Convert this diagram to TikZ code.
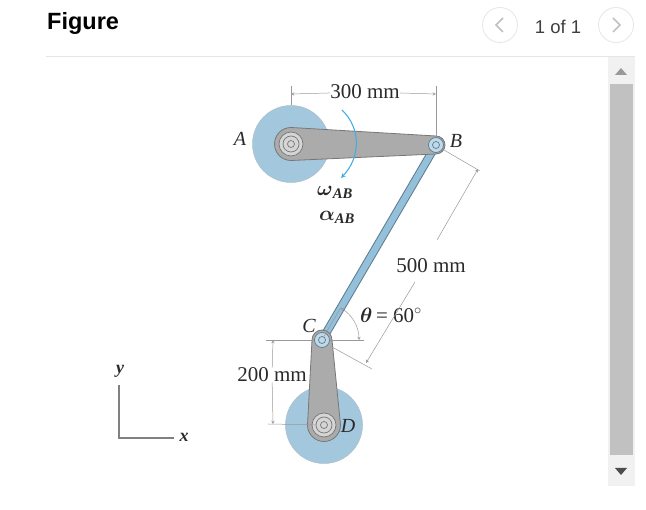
\documentclass[tikz,border=0pt]{standalone}
\usepackage{amsmath,amssymb}
\usepackage{fontspec}
\setmainfont{Liberation Serif}
\newfontfamily\uifont{Liberation Sans}
\usepackage{tikz}
\definecolor{diskblue}{HTML}{A3C8DD}
\definecolor{linkblue}{HTML}{94C0DA}
\definecolor{edgeblue}{HTML}{5A7D91}
\definecolor{armgray}{HTML}{ABABAB}
\definecolor{armedge}{HTML}{777777}
\definecolor{dimgray}{HTML}{999999}
\definecolor{rulegray}{HTML}{E6E6E6}
\definecolor{trackgray}{HTML}{F1F1F1}
\definecolor{thumbgray}{HTML}{C1C1C1}
\definecolor{spinblue}{HTML}{45AEE0}
\definecolor{inkgray}{HTML}{2A2A2A}

\begin{document}
\begin{tikzpicture}
		[
			x=1pt, y=1pt,
			>=stealth,
			disk/.style = {circle, minimum size=77pt, inner sep=0pt, draw=edgeblue!50, fill=diskblue, line width=0.5pt},
			ring/.style = {circle, inner sep=0pt, draw=armedge, fill=armgray!50, line width=0.7pt},
			arm/.style = {draw=armedge, fill=armgray, line width=0.8pt},
			dim/.style = {draw=dimgray, line width=0.5pt},
			lbl/.style = {inner sep=0pt, text=inkgray, font=\fontsize{21}{21}\selectfont},
			plbl/.style = {inner sep=0pt, text=inkgray, font=\fontsize{20}{20}\selectfont\itshape},
			axlbl/.style = {inner sep=0pt, text=inkgray, font=\fontsize{18}{18}\selectfont\itshape\bfseries},
			pagebtn/.style = {circle, minimum size=35pt, inner sep=0pt, draw=rulegray, fill=white, line width=0.8pt},
		]
		\useasboundingbox (0,0) rectangle (646,-510);

		% page header
		\node[anchor=west, inner sep=0pt, font=\uifont\bfseries\fontsize{23.5}{23.5}\selectfont] (title) at (47,-23.5) {Figure};
		\node[pagebtn] (prev) at (500,-25) {};
		\node[pagebtn] (next) at (616,-25) {};
		\node[inner sep=0pt, text=inkgray!90, font=\uifont\fontsize{18.5}{18.5}\selectfont] (pageno) at (558,-27) {1 of 1};
		\draw[line width=1.5pt, draw=thumbgray] (503,-18) -- (496,-25) -- (503,-32);
		\draw[line width=1.5pt, draw=thumbgray] (613,-18) -- (620,-25) -- (613,-32);
		\coordinate (ruleL) at (46,-56.5);
		\coordinate (ruleR) at (635,-56.5);
		\draw[rulegray, line width=1pt] (ruleL) -- (ruleR);

		% scroll bar
		\fill[trackgray] (608,-57) rectangle (635,-486);
		\fill[thumbgray] (610,-84) rectangle (633,-455);
		\fill[gray!80] (615,-75) -- (627,-75) -- (621,-68) -- cycle;
		\fill[black!70] (615,-468) -- (627,-468) -- (621,-475) -- cycle;

		% disks and pins
		\node[disk] (A) at (291,-144) {};
		\node[disk] (D) at (324,-425) {};
		\coordinate (B) at (436,-145);
		\coordinate (C) at (322,-340);

		% link BC
		\draw[edgeblue, line width=8.5pt] (B) -- (C);
		\draw[linkblue, line width=6.5pt] (B) -- (C);

		% arms
		\path[arm] (291,-127.5) -- (436,-136) arc[start angle=90, end angle=-90, radius=9]
			-- (291,-160.5) arc[start angle=270, end angle=90, radius=16.5] -- cycle;
		\path[arm] (312,-340) arc[start angle=180, end angle=0, radius=10]
			-- (340.5,-425) arc[start angle=0, end angle=-180, radius=16.5] -- cycle;

		% pins
		\foreach \pin/\rad in {A/24,A/16,A/7,D/24,D/16,D/7}
		\node[ring, minimum size=\rad pt] (p\pin\rad) at (\pin) {};
		\foreach \pin/\rad in {B/15,B/7,C/15,C/7}
		\node[ring, minimum size=\rad pt, draw=edgeblue, fill=linkblue!60] (p\pin\rad) at (\pin) {};

		% labels
		\node[plbl] (la) at (240,-139) {A};
		\node[plbl] (lb) at (456,-141) {B};
		\node[plbl] (lc) at (309,-326) {C};
		\node[plbl] (ld) at (348,-426) {D};
		\node[lbl] (t300) at (365,-92) {300 mm};
		\node[lbl] (t500) at (431,-266) {500 mm};
		\node[lbl] (t200) at (272,-375) {200 mm};
		\node[lbl] (ttheta) at (391,-315) {$\boldsymbol{\theta}$\,= 60$^{\circ}$};
		\node[lbl] (tomega) at (335,-192) {$\boldsymbol{\omega}_{\text{\itshape\bfseries AB}}$};
		\node[lbl] (talpha) at (337,-217) {$\boldsymbol{\alpha}_{\text{\itshape\bfseries AB}}$};
		\node[axlbl] (ly) at (120,-371) {y};
		\node[axlbl] (lx) at (184,-437) {x};

		% dimension points
		\coordinate (a300) at (291,-94);
		\coordinate (b300) at (436,-94);
		\coordinate (a300e) at (291,-86);
		\coordinate (b300e) at (436,-86);
		\coordinate (b500) at (478,-169);
		\coordinate (b500e) at (480,-171);
		\coordinate (b500s) at (444,-150);
		\coordinate (c500) at (366,-363);
		\coordinate (c500e) at (372,-369);
		\coordinate (c500s) at (332,-347);
		\coordinate (g500a) at (437,-240);
		\coordinate (g500b) at (415,-282);
		\coordinate (c200) at (273,-340);
		\coordinate (d200) at (273,-424);
		\coordinate (c200e) at (266,-340);
		\coordinate (d200e) at (268,-424);
		\coordinate (thL) at (364,-340);
		\coordinate (thA) at (340.5,-308);

		% dimension lines
		\foreach \from/\to in {t300/a300,t300/b300,g500a/b500,g500b/c500,t200/c200,t200/d200}
		\draw[dim, ->] (\from) -- (\to);

		\foreach \from/\to in {a300e/A,b300e/pB15,b500e/b500s,c500e/c500s,c200e/pC15,thL/pC15,d200e/pD16,pC7/thA}
		\draw[dim] (\from) -- (\to);
		\draw[dim, <->] (thA) arc[start angle=60, end angle=0, radius=37];

		% angular motion
		\coordinate (omS) at (342,-110);
		\coordinate (omE) at (341,-178);
		\draw[spinblue, line width=1.1pt, ->] (omS) .. controls (361,-128) and (361,-157) .. (omE);

		% axes
		\coordinate (org) at (119,-438);
		\coordinate (yEnd) at (119,-385);
		\coordinate (xEnd) at (174,-438);
		\draw[draw=gray, line width=1.1pt] (yEnd) -- (org) -- (xEnd);

		\end{tikzpicture}
\end{document}
